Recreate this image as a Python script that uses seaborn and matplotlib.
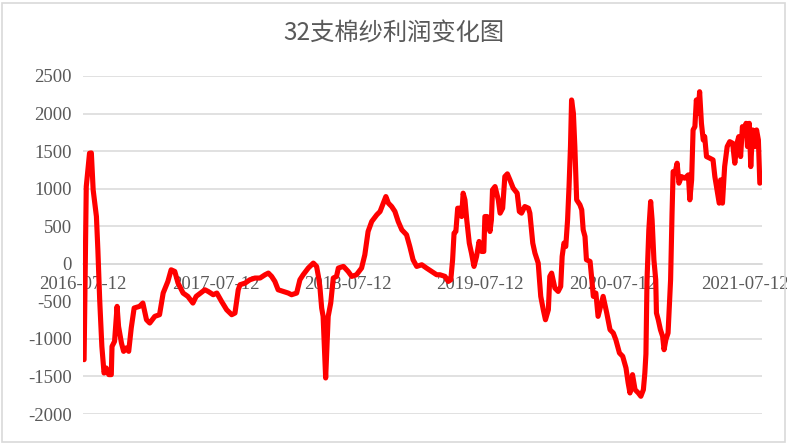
import matplotlib
matplotlib.use("Agg")
import matplotlib.pyplot as plt
from matplotlib.patches import Rectangle
import seaborn as sns
import pandas as pd

title = "32支棉纱利润变化图"
start_date = "2016-07-12"
end_date = "2021-08-27"
tick_dates = ["2016-07-12", "2017-07-12", "2018-07-12", "2019-07-12", "2020-07-12", "2021-07-12"]
y_ticks = [-2000, -1500, -1000, -500, 0, 500, 1000, 1500, 2000, 2500]

# days since 2016-07-12
days = [3, 9, 18, 23, 28, 37, 41, 46, 52, 58,
        64, 71, 78, 80, 87, 94, 98, 106, 112, 119,
        126, 133, 141, 156, 165, 175, 184, 198, 211, 221,
        234, 243, 253, 262, 276, 289, 303, 312,
        318, 336, 345, 359, 369, 382, 396, 410, 419, 428,
        433, 447, 460, 474, 488, 502, 511, 520, 529, 538,
        552, 566, 575, 589, 598, 607, 621, 635, 644, 649,
        653, 658, 662, 669, 676, 683, 690, 699, 704, 718,
        731, 741, 754, 768, 777, 786, 796, 810, 819, 828,
        835, 842, 851, 860, 869, 879, 892, 901, 910, 920,
        934, 947, 961, 975, 984,
        998, 1007, 1014, 1019, 1023, 1028, 1033, 1039, 1044, 1048,
        1053, 1058, 1065, 1071, 1078, 1085, 1092, 1099, 1105, 1108,
        1114, 1122, 1126, 1129, 1136, 1145, 1150, 1157, 1163, 1170,
        1177, 1186, 1197, 1203, 1209, 1218, 1228, 1232, 1240, 1246,
        1255, 1262, 1269, 1275, 1283, 1287, 1292, 1301, 1310, 1317,
        1321, 1326, 1331, 1336, 1340, 1344, 1347, 1352, 1356, 1361,
        1370, 1375, 1379, 1384, 1388, 1398, 1402, 1407, 1414, 1420,
        1427, 1434, 1444, 1453, 1462, 1469, 1479, 1488, 1497, 1503,
        1508, 1515, 1522, 1531, 1538, 1545, 1549, 1552, 1555, 1560,
        1565, 1569, 1574, 1579, 1581, 1586, 1592, 1598, 1602, 1607,
        1613, 1620, 1624, 1627, 1632, 1638, 1643, 1650, 1659, 1669,
        1673, 1678, 1682, 1687, 1691, 1696, 1700, 1705, 1710, 1714,
        1719, 1728, 1737, 1742, 1748, 1754, 1758, 1763, 1769, 1776,
        1783, 1791, 1797, 1803, 1808, 1813, 1818, 1823, 1828, 1832,
        1837, 1841, 1846, 1852, 1857, 1862, 1866]

profit = [-1277, 1028, 1472, 1476, 984, 629, 186, -479, -1100, -1454,
          -1387, -1476, -1476, -1100, -1033, -567, -833, -1055, -1166, -1121,
          -1166, -855, -589, -567, -523, -745, -789, -700, -678, -390,
          -235, -80, -102, -257, -390, -434, -523, -434,
          -412, -346, -368, -412, -390, -501, -612, -678, -656, -346,
          -279, -257, -213, -190, -190, -146, -124, -168, -235, -346,
          -368, -390, -412, -390, -213, -146, -57, 9, -35, -168,
          -302, -589, -700, -1520, -700, -523, -190, -168, -57, -35,
          -102, -168, -146, -57, 120, 430, 563, 652, 696, 807,
          895, 807, 762, 696, 563, 452, 386, 230, 53, -35,
          -13, -57, -102, -146, -146,
          -168, -235, -213, 53, 408, 430, 740, 740, 629, 940,
          851, 585, 275, 142, -35, 97, 297, 164, 164, 629,
          629, 430, 585, 984, 1028, 851, 674, 740, 1161, 1197,
          1117, 1007, 940, 696, 674, 762, 740, 674, 275, 142,
          9, -434, -612, -745, -612, -168, -124, -324, -368, -302,
          97, 275, 230, 585, 1028, 1560, 2181, 2004, 1560, 851,
          785, 718, 452, 363, 53, 31, -168, -434, -390, -700,
          -567, -434, -656, -878, -922, -1011, -1188, -1232, -1387, -1587,
          -1720, -1476, -1676, -1720, -1764, -1676, -1454, -1200, -213, 452,
          829, 585, 53, -213, -656, -745, -878, -966, -1144, -1011,
          -922, -213, 674, 1228, 1206, 1339, 1073, 1161, 1139, 1184,
          851, 1117, 1782, 1826, 2181, 2004, 2291, 1870, 1649, 1693,
          1427, 1406, 1383, 1161, 984, 807, 1117, 807, 1294, 1560,
          1626, 1605, 1339, 1605, 1693, 1427, 1826, 1715, 1870, 1560,
          1870, 1294, 1782, 1560, 1782, 1649, 1073]

df = pd.DataFrame({
    "date": pd.Timestamp(start_date) + pd.to_timedelta(days, unit="D"),
    "profit": profit,
})

sns.set_style("white")
plt.rcParams["font.family"] = ["Liberation Serif", "Noto Sans CJK SC", "DejaVu Sans"]
plt.rcParams["axes.unicode_minus"] = False

fig = plt.figure(figsize=(7.87, 4.44), dpi=100)
ax = fig.add_axes([83 / 787, 1 - 414 / 444, (762 - 83) / 787, (414 - 76) / 444])

sns.lineplot(data=df, x="date", y="profit", ax=ax, color="#FF0000",
             linewidth=3.7, estimator=None, sort=False, zorder=3)
for ln in ax.lines:
    ln.set_solid_joinstyle("round")
    ln.set_solid_capstyle("round")

ax.set_xlim(pd.Timestamp(start_date), pd.Timestamp(end_date))
ax.set_ylim(-2000, 2500)
ax.set_yticks(y_ticks)
ax.set_yticklabels([str(v) for v in y_ticks])
ax.set_xticks([pd.Timestamp(d) for d in tick_dates])
ax.set_xticklabels(tick_dates)

ax.set_axisbelow(True)
ax.yaxis.grid(True, color="#d9d9d9", linewidth=1.1)
ax.xaxis.grid(False)
for s in ["left", "right", "top"]:
    ax.spines[s].set_visible(False)
ax.spines["bottom"].set_position(("data", 0))
ax.spines["bottom"].set_color("#d9d9d9")
ax.spines["bottom"].set_linewidth(1.1)

ax.tick_params(axis="y", length=0, pad=8, labelsize=13.5, labelcolor="#595959")
ax.tick_params(axis="x", direction="out", length=4, width=1, color="#bfbfbf",
               pad=5, labelsize=13.5, labelcolor="#595959")
ax.set_xlabel("")
ax.set_ylabel("")

fig.text(0.5, 1 - 34 / 444, title, ha="center", va="center", fontsize=17.5,
         color="#595959", family=["Noto Sans CJK SC", "DejaVu Sans"])

fig.patches.append(Rectangle((2 / 787, 2 / 444), 783 / 787, 439 / 444,
                             transform=fig.transFigure, fill=False,
                             edgecolor="#d9d9d9", linewidth=1.2))

fig.savefig("out.png", dpi=100)
